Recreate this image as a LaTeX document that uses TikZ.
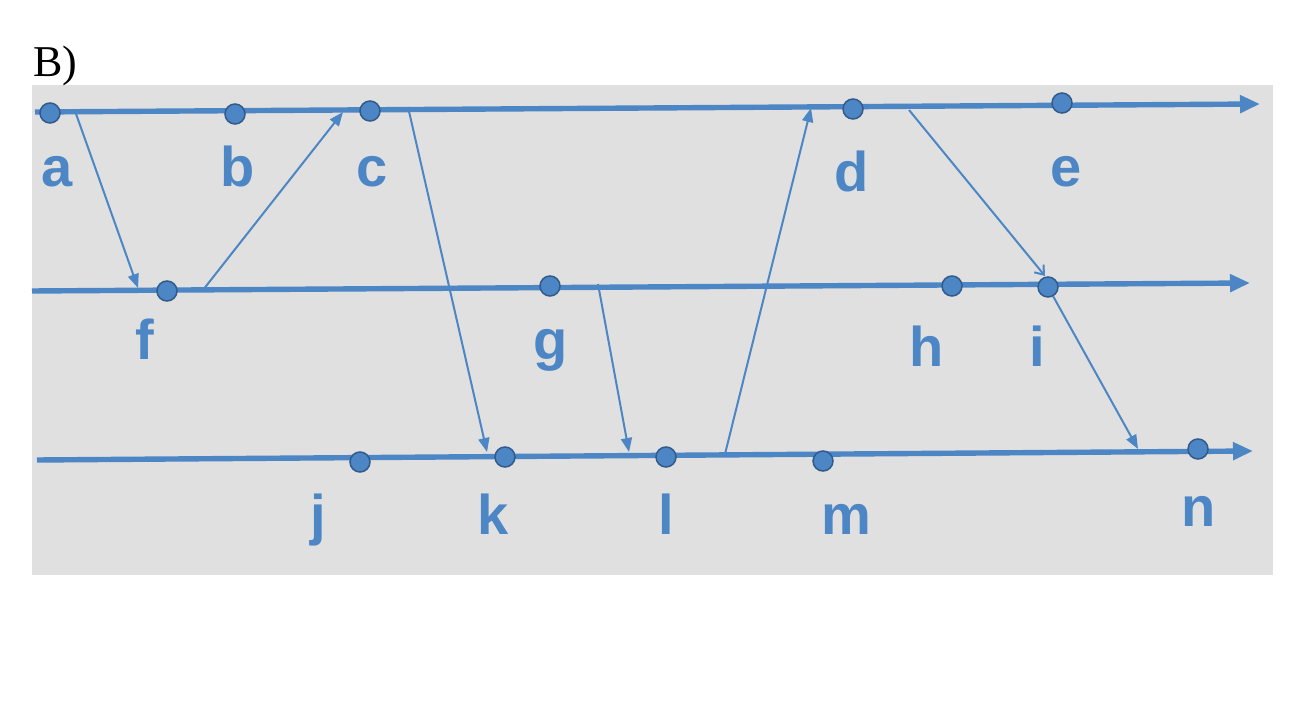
\documentclass[tikz,border=0pt]{standalone}
\usepackage{fontspec}
\setmainfont{Liberation Serif}
\newfontfamily\labelfont{Liberation Sans}
\usetikzlibrary{arrows.meta}
\definecolor{myblue}{RGB}{76,134,197}
\definecolor{mydarkblue}{RGB}{50,90,138}
\definecolor{mygray}{RGB}{224,224,224}
\tikzset{
    timeline/.style={draw=myblue, line width=2.7pt, -{Triangle[length=10pt, width=8.5pt]}},
    msg/.style={draw=myblue, line width=1pt, -{Triangle[length=7pt, width=5.5pt]}},
    thinmsg/.style={draw=myblue, line width=1pt, -{Straight Barb[length=4pt, width=6pt]}},
    event/.style={circle, draw=mydarkblue, fill=myblue, line width=0.75pt, inner sep=0pt, minimum size=10pt},
    evlabel/.style={anchor=base, text=myblue, font=\labelfont\bfseries\fontsize{28}{30}\selectfont}
}

\begin{document}
\begin{tikzpicture}[x=0.5pt, y=-0.5pt]
            \useasboundingbox (0,0) rectangle (1310,704);
            \fill[mygray] (32,85) rectangle (1273,575);
            \node[anchor=base west, inner sep=0pt, font=\fontsize{22}{24}\selectfont] (title) at (33,77) {B)};

            % the three processes
            \coordinate (p1s) at (35,112);
            \coordinate (p1e) at (1260,104);
            \coordinate (p2s) at (32,291);
            \coordinate (p2e) at (1250,283);
            \coordinate (p3s) at (37,460);
            \coordinate (p3e) at (1253,451);
            \draw[timeline] (p1s) -- (p1e);
            \draw[timeline] (p2s) -- (p2e);
            \draw[timeline] (p3s) -- (p3e);

            % send and receive points
            \coordinate (s1) at (75,111);
            \coordinate (r1) at (138,288);
            \coordinate (s2) at (203,290);
            \coordinate (r2) at (343,112);
            \coordinate (s3) at (408,107);
            \coordinate (r3) at (487,452);
            \coordinate (s4) at (598,284);
            \coordinate (r4) at (629,452);
            \coordinate (s5) at (725,454);
            \coordinate (r5) at (811,108);
            \coordinate (s6) at (909,110);
            \coordinate (r6) at (1045,276);
            \coordinate (r7) at (1138,449);

            \draw[msg] (s1) -- (r1);
            \draw[msg] (s2) -- (r2);
            \draw[msg] (s3) -- (r3);
            \draw[msg] (s4) -- (r4);
            \draw[msg] (s5) -- (r5);
            \draw[thinmsg] (s6) -- (r6);

            % events
            \node[event] (a) at (50,113) {};
            \node[event] (b) at (235,114) {};
            \node[event] (c) at (370,111) {};
            \node[event] (d) at (853,109) {};
            \node[event] (e) at (1062,103) {};
            \node[event] (f) at (167,291) {};
            \node[event] (g) at (550,286) {};
            \node[event] (h) at (952,286) {};
            \node[event] (i) at (1048,287) {};
            \node[event] (j) at (360,462) {};
            \node[event] (k) at (505,457) {};
            \node[event] (l) at (666,457) {};
            \node[event] (m) at (823,461) {};
            \node[event] (n) at (1198,449) {};

            \draw[msg] (i) -- (r7);

            \node[evlabel] (la) at (57,187) {a};
            \node[evlabel] (lb) at (238,187) {b};
            \node[evlabel] (lc) at (372,187) {c};
            \node[evlabel] (ld) at (852,192) {d};
            \node[evlabel] (le) at (1066,187) {e};
            \node[evlabel] (lf) at (145,360) {f};
            \node[evlabel] (lg) at (551,360) {g};
            \node[evlabel] (lh) at (927,367) {h};
            \node[evlabel] (li) at (1037,367) {i};
            \node[evlabel] (lj) at (318,535) {j};
            \node[evlabel] (lk) at (493,535) {k};
            \node[evlabel] (ll) at (666,535) {l};
            \node[evlabel] (lm) at (846,535) {m};
            \node[evlabel] (ln) at (1199,527) {n};
        \end{tikzpicture}
\end{document}
